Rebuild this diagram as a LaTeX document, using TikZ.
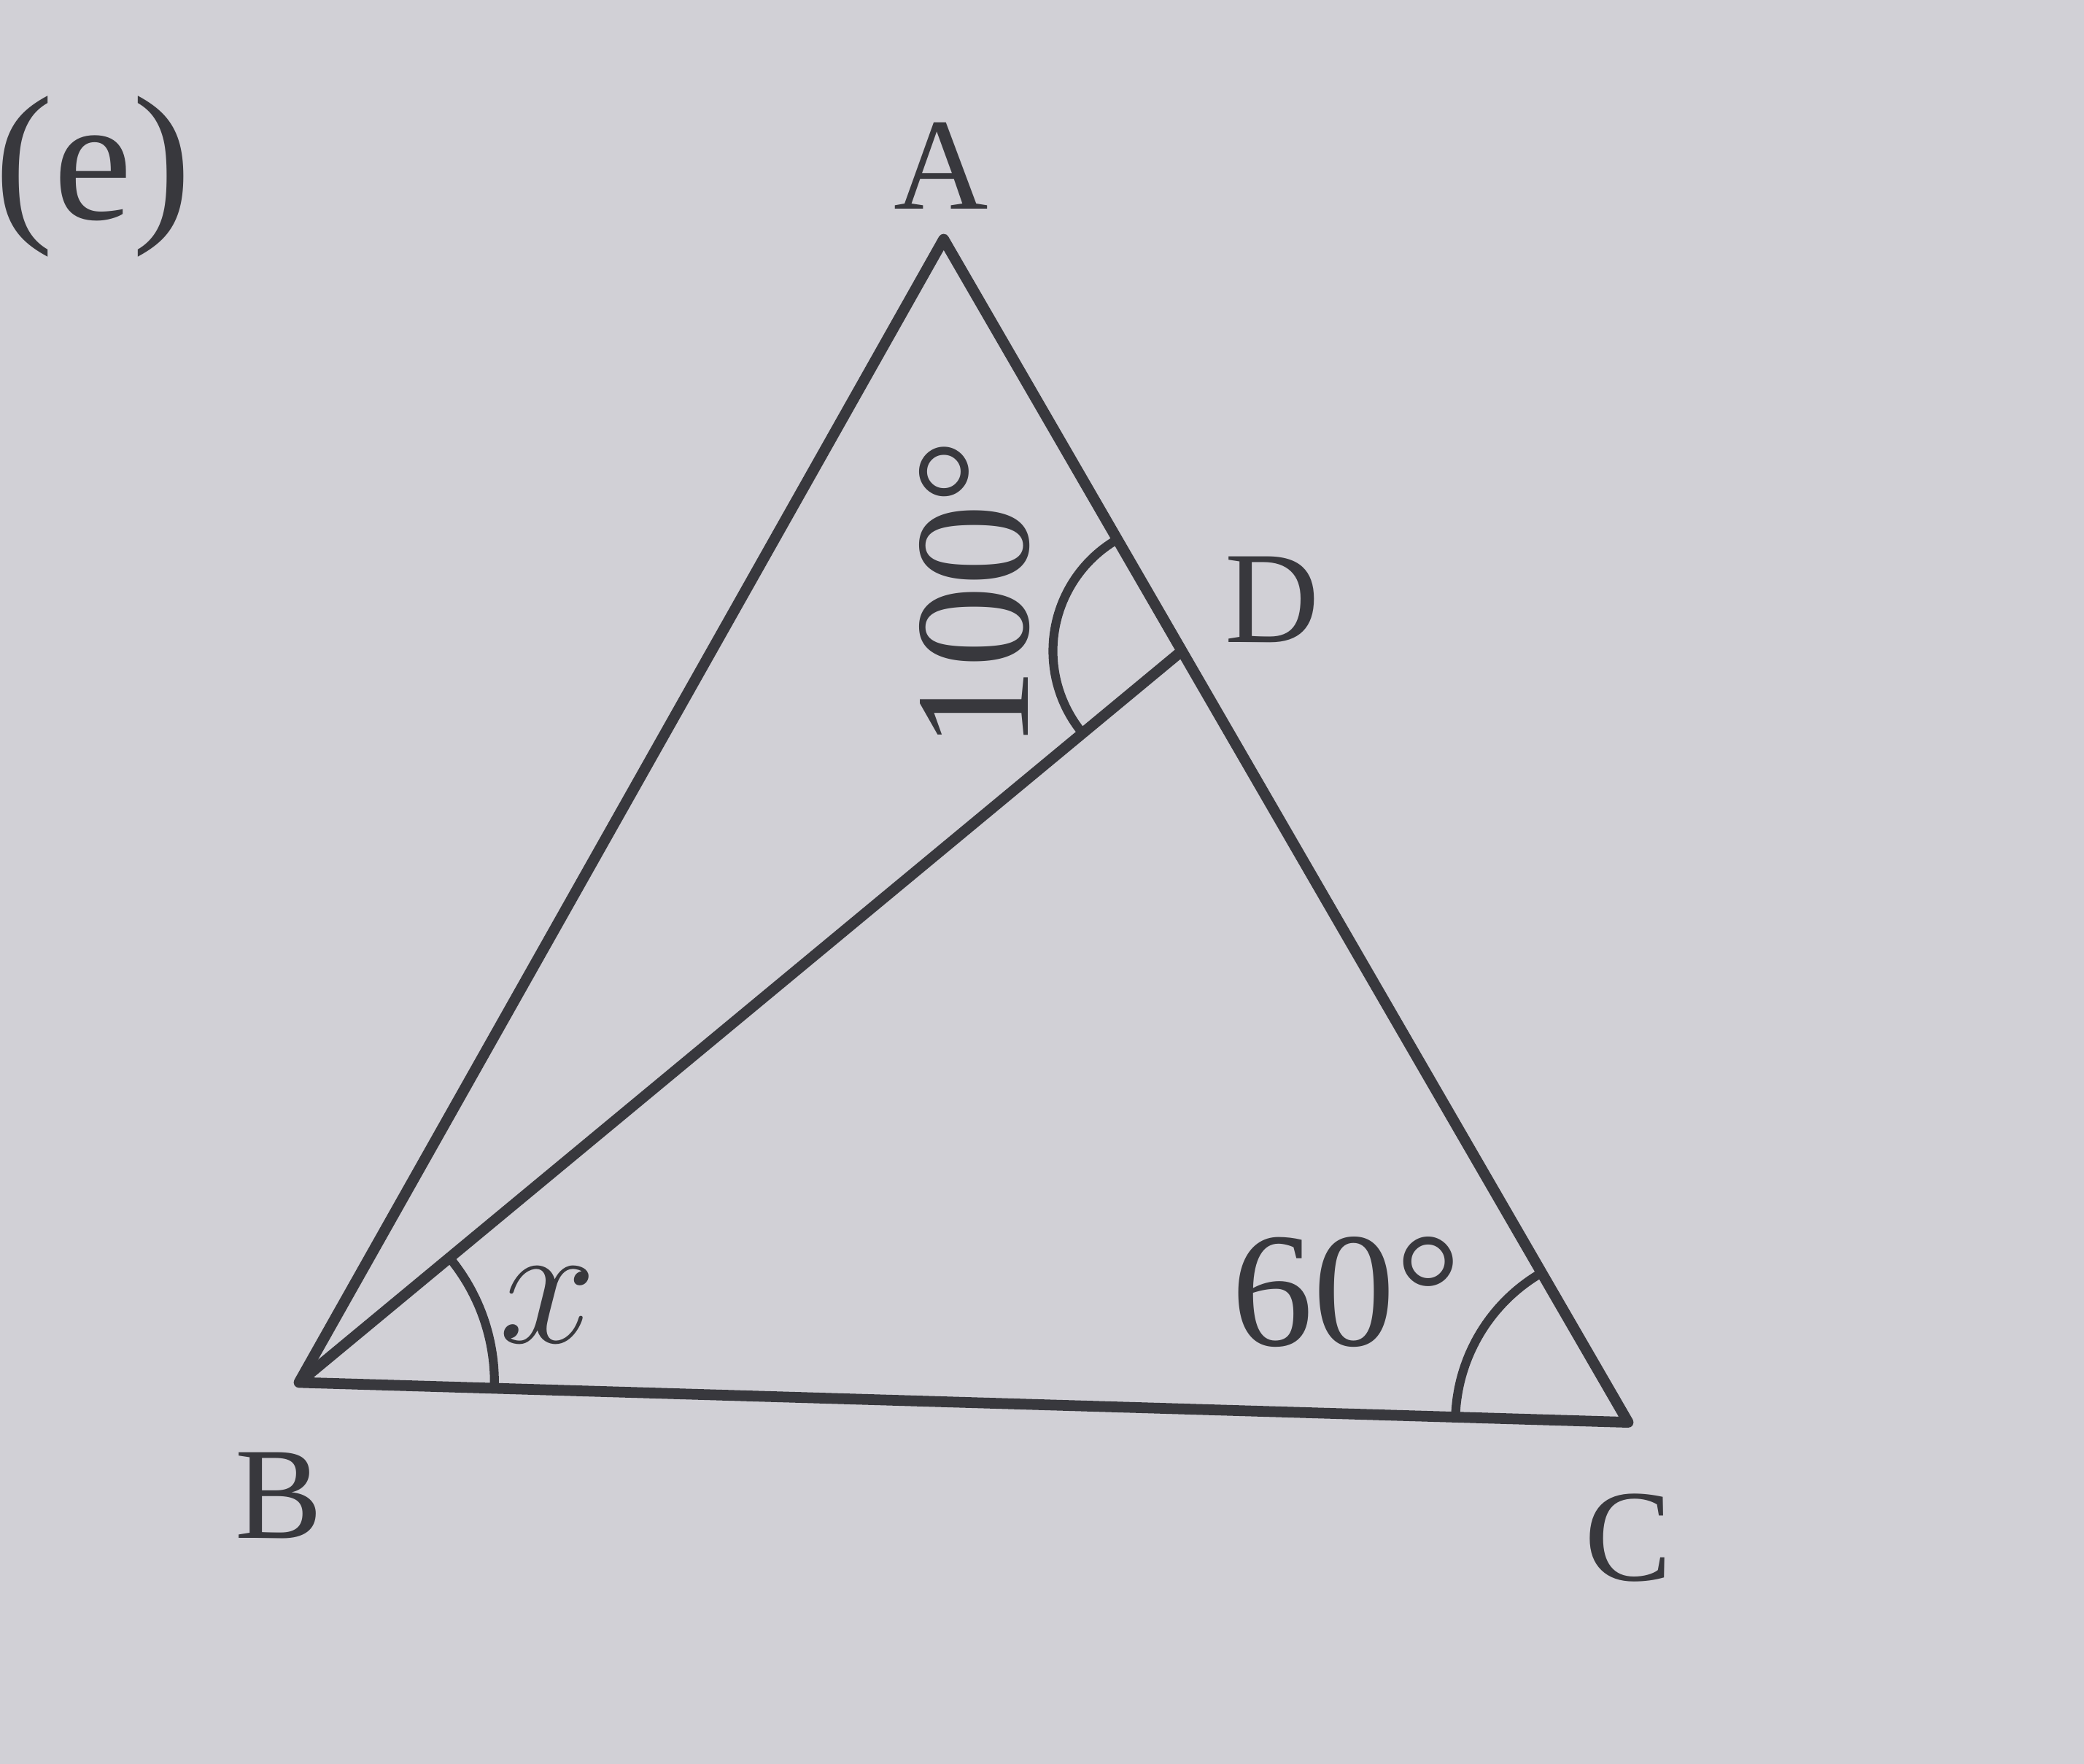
\documentclass[tikz,border=0pt]{standalone}
\usepackage{fontspec}
\setmainfont{Liberation Serif}
\usepackage{tikz}
\usetikzlibrary{angles, calc}
\definecolor{paper}{HTML}{D1D0D6}
\definecolor{ink}{HTML}{38383D}
\tikzstyle{side} = [draw=ink, line width=2.3pt, line join=round]
\tikzstyle{anglemark} = [draw=ink, line width=1.9pt]
\tikzstyle{lbl} = [inner sep=0mm, text=ink, font=\fontsize{28}{32}\selectfont]
\tikzstyle{num} = [inner sep=0mm, text=ink, font=\fontsize{35}{40}\selectfont]

\begin{document}
\begin{tikzpicture}
                \fill[paper] (0, 0) rectangle (15.68, 13.27);
                \useasboundingbox (0, 0) rectangle (15.68, 13.27);
                %\draw[help lines] (0, 0) grid (15, 13);
                \coordinate (A) at (7.10, 11.47);
                \coordinate (B) at (2.25, 2.87);
                \coordinate (C) at (12.25, 2.57);
                \coordinate (D) at ($(A)!0.348!(C)$);

                \draw[side] (A) -- (B) -- (C) -- cycle;
                \draw[side] (B) -- (D);

                \pic[anglemark, angle radius=0.97cm] {angle = A--D--B};
                \pic[anglemark, angle radius=1.47cm] {angle = C--B--D};
                \pic[anglemark, angle radius=1.30cm] {angle = A--C--B};

                \node[lbl, font=\fontsize{38}{42}\selectfont, anchor=base west] (e) at (-0.05, 11.62) {(e)};
                \node[lbl] (la) at (7.08, 12.02) {A};
                \node[lbl] (lb) at (2.10, 2.02) {B};
                \node[lbl] (lc) at (12.25, 1.70) {C};
                \node[lbl] (ld) at (9.57, 8.76) {D};
                \node[num, rotate=90] (adb) at (7.33, 8.80) {100°};
                \node[lbl, font=\fontsize{24}{28}\selectfont, scale=1.5] (abd) at (4.12, 3.45) {$x$};
                \node[num] (acb) at (10.13, 3.55) {60°};
            \end{tikzpicture}
\end{document}
